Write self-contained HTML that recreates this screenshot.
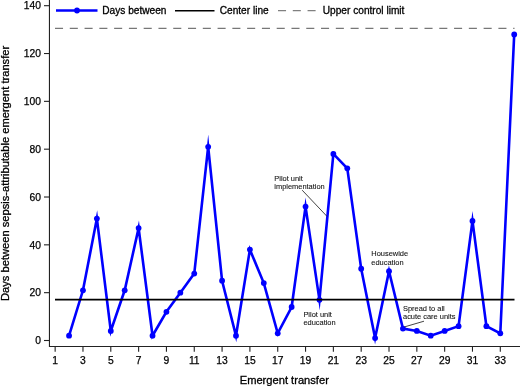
<!DOCTYPE html>
<html><head><meta charset="utf-8"><title>Control chart</title>
<style>
html,body{margin:0;padding:0;background:#fff;}
svg{display:block;font-family:"Liberation Sans",Arial,sans-serif;}
</style></head><body>
<svg width="520" height="386" viewBox="0 0 520 386">
<rect width="520" height="386" fill="#fff"/>
<g stroke="#222" stroke-width="1.1" fill="none">
<line x1="49.45" x2="49.45" y1="0" y2="347"/>
<line x1="49" x2="520" y1="346.5" y2="346.5"/>
<line x1="44" x2="49.5" y1="340.50" y2="340.50"/><line x1="44" x2="49.5" y1="292.67" y2="292.67"/><line x1="44" x2="49.5" y1="244.84" y2="244.84"/><line x1="44" x2="49.5" y1="197.01" y2="197.01"/><line x1="44" x2="49.5" y1="149.18" y2="149.18"/><line x1="44" x2="49.5" y1="101.35" y2="101.35"/><line x1="44" x2="49.5" y1="53.52" y2="53.52"/><line x1="44" x2="49.5" y1="5.69" y2="5.69"/>
<line x1="55.15" x2="55.15" y1="346.5" y2="351.7"/><line x1="82.97" x2="82.97" y1="346.5" y2="351.7"/><line x1="110.79" x2="110.79" y1="346.5" y2="351.7"/><line x1="138.62" x2="138.62" y1="346.5" y2="351.7"/><line x1="166.44" x2="166.44" y1="346.5" y2="351.7"/><line x1="194.26" x2="194.26" y1="346.5" y2="351.7"/><line x1="222.08" x2="222.08" y1="346.5" y2="351.7"/><line x1="249.90" x2="249.90" y1="346.5" y2="351.7"/><line x1="277.73" x2="277.73" y1="346.5" y2="351.7"/><line x1="305.55" x2="305.55" y1="346.5" y2="351.7"/><line x1="333.37" x2="333.37" y1="346.5" y2="351.7"/><line x1="361.19" x2="361.19" y1="346.5" y2="351.7"/><line x1="389.01" x2="389.01" y1="346.5" y2="351.7"/><line x1="416.84" x2="416.84" y1="346.5" y2="351.7"/><line x1="444.66" x2="444.66" y1="346.5" y2="351.7"/><line x1="472.48" x2="472.48" y1="346.5" y2="351.7"/><line x1="500.30" x2="500.30" y1="346.5" y2="351.7"/>
</g>
<g font-size="10.3" fill="#000" stroke="#000" stroke-width="0.25">
<text x="41" y="344.20" text-anchor="end">0</text><text x="41" y="296.37" text-anchor="end">20</text><text x="41" y="248.54" text-anchor="end">40</text><text x="41" y="200.71" text-anchor="end">60</text><text x="41" y="152.88" text-anchor="end">80</text><text x="41" y="105.05" text-anchor="end">100</text><text x="41" y="57.22" text-anchor="end">120</text><text x="41" y="9.39" text-anchor="end">140</text>
<text x="55.15" y="364.3" text-anchor="middle">1</text><text x="82.97" y="364.3" text-anchor="middle">3</text><text x="110.79" y="364.3" text-anchor="middle">5</text><text x="138.62" y="364.3" text-anchor="middle">7</text><text x="166.44" y="364.3" text-anchor="middle">9</text><text x="194.26" y="364.3" text-anchor="middle">11</text><text x="222.08" y="364.3" text-anchor="middle">13</text><text x="249.90" y="364.3" text-anchor="middle">15</text><text x="277.73" y="364.3" text-anchor="middle">17</text><text x="305.55" y="364.3" text-anchor="middle">19</text><text x="333.37" y="364.3" text-anchor="middle">21</text><text x="361.19" y="364.3" text-anchor="middle">23</text><text x="389.01" y="364.3" text-anchor="middle">25</text><text x="416.84" y="364.3" text-anchor="middle">27</text><text x="444.66" y="364.3" text-anchor="middle">29</text><text x="472.48" y="364.3" text-anchor="middle">31</text><text x="500.30" y="364.3" text-anchor="middle">33</text>
</g>
<line x1="55" x2="514.5" y1="28.4" y2="28.4" stroke="#777" stroke-width="1.3" stroke-dasharray="8.05 6.73"/>
<polyline points="69.06,335.72 82.97,290.28 96.88,218.53 110.79,330.93 124.70,290.28 138.62,228.10 152.53,335.72 166.44,311.80 180.35,292.67 194.26,273.54 208.17,146.79 222.08,280.71 235.99,335.72 249.90,249.62 263.81,283.10 277.73,333.33 291.64,307.02 305.55,206.58 319.46,299.84 333.37,153.96 347.28,168.31 361.19,268.75 375.10,338.11 389.01,271.15 402.92,328.54 416.84,330.93 430.75,335.72 444.66,330.93 458.57,326.15 472.48,220.93 486.39,326.15 500.30,333.33 514.21,34.39" fill="none" stroke="#0000ff" stroke-width="2.6" stroke-linejoin="miter" stroke-miterlimit="10"/>
<g fill="#0000ff"><circle cx="69.06" cy="335.72" r="2.9"/><circle cx="82.97" cy="290.28" r="2.9"/><circle cx="96.88" cy="218.53" r="2.9"/><circle cx="110.79" cy="330.93" r="2.9"/><circle cx="124.70" cy="290.28" r="2.9"/><circle cx="138.62" cy="228.10" r="2.9"/><circle cx="152.53" cy="335.72" r="2.9"/><circle cx="166.44" cy="311.80" r="2.9"/><circle cx="180.35" cy="292.67" r="2.9"/><circle cx="194.26" cy="273.54" r="2.9"/><circle cx="208.17" cy="146.79" r="2.9"/><circle cx="222.08" cy="280.71" r="2.9"/><circle cx="235.99" cy="335.72" r="2.9"/><circle cx="249.90" cy="249.62" r="2.9"/><circle cx="263.81" cy="283.10" r="2.9"/><circle cx="277.73" cy="333.33" r="2.9"/><circle cx="291.64" cy="307.02" r="2.9"/><circle cx="305.55" cy="206.58" r="2.9"/><circle cx="319.46" cy="299.84" r="2.9"/><circle cx="333.37" cy="153.96" r="2.9"/><circle cx="347.28" cy="168.31" r="2.9"/><circle cx="361.19" cy="268.75" r="2.9"/><circle cx="375.10" cy="338.11" r="2.9"/><circle cx="389.01" cy="271.15" r="2.9"/><circle cx="402.92" cy="328.54" r="2.9"/><circle cx="416.84" cy="330.93" r="2.9"/><circle cx="430.75" cy="335.72" r="2.9"/><circle cx="444.66" cy="330.93" r="2.9"/><circle cx="458.57" cy="326.15" r="2.9"/><circle cx="472.48" cy="220.93" r="2.9"/><circle cx="486.39" cy="326.15" r="2.9"/><circle cx="500.30" cy="333.33" r="2.9"/><circle cx="514.21" cy="34.39" r="2.9"/></g>
<line x1="55" x2="514.5" y1="299.62" y2="299.62" stroke="#000" stroke-width="1.6"/>
<!-- legend -->
<line x1="56" x2="97.5" y1="10.5" y2="10.5" stroke="#0000ff" stroke-width="2.6"/>
<circle cx="77" cy="10.5" r="2.9" fill="#0000ff"/>
<line x1="175" x2="214.5" y1="10.7" y2="10.7" stroke="#000" stroke-width="1.4"/>
<line x1="278" x2="318" y1="10.7" y2="10.7" stroke="#808080" stroke-width="1.3" stroke-dasharray="8.05 6.73"/>
<g font-size="10.15" fill="#000" stroke="#000" stroke-width="0.3">
<text x="102.3" y="14">Days between</text>
<text x="219.7" y="14">Center line</text>
<text x="322.8" y="14">Upper control limit</text>
</g>
<!-- axis labels -->
<g font-size="11.15" fill="#000" stroke="#000" stroke-width="0.3">
<text x="284.3" y="383.5" text-anchor="middle">Emergent transfer</text>
<text transform="translate(8.5,173.4) rotate(-90)" text-anchor="middle">Days between sepsis-attributable emergent transfer</text>
</g>
<!-- annotations -->
<g font-size="7.45" fill="#111" stroke="#111" stroke-width="0.08">
<text x="274.3" y="180.6">Pilot unit</text>
<text x="274.3" y="188.5">implementation</text>
<text x="303.4" y="316.8">Pilot unit</text>
<text x="303.4" y="324.8">education</text>
<text x="371.3" y="256.4">Housewide</text>
<text x="371.3" y="264.6">education</text>
<text x="403" y="310.9">Spread to all</text>
<text x="403" y="319.3">acute care units</text>
</g>
<g stroke="#222" stroke-width="0.85" fill="none">
<line x1="302.2" y1="190.2" x2="327" y2="216.4"/>
<line x1="424" y1="321.2" x2="404.5" y2="326.9"/>
</g>
</svg>
</body></html>
